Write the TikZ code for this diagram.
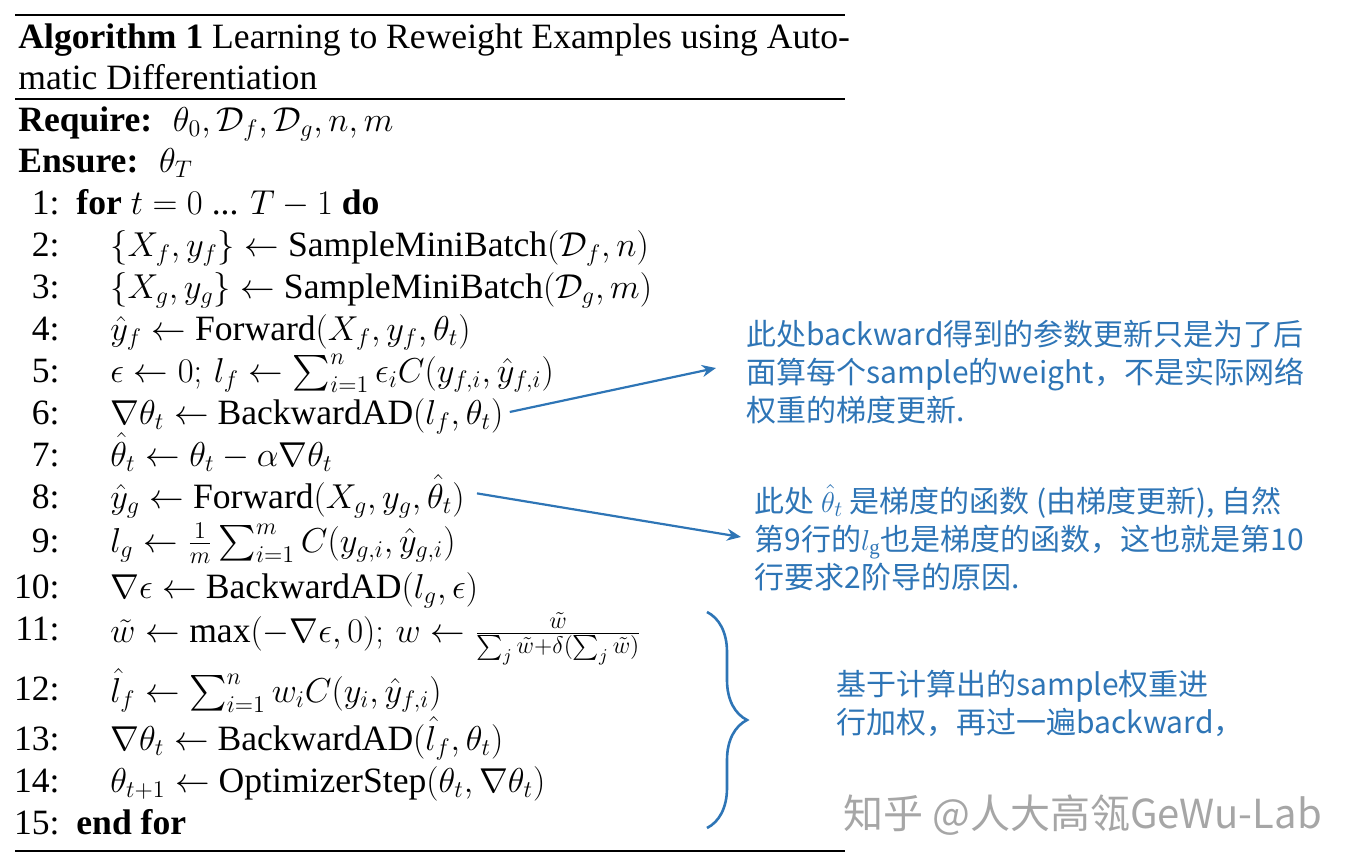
\documentclass[tikz,border=0pt]{standalone}
\usepackage{amsmath,amssymb}
\usepackage{fontspec}
\setmainfont{Liberation Serif}
\newfontfamily\cjk{Noto Sans CJK SC}
\usetikzlibrary{decorations.pathreplacing,arrows.meta}
\definecolor{ann}{RGB}{46,117,182}
\tikzset{
 alg/.style={anchor=base west,inner sep=0pt,font=\fontsize{17.8}{20}\selectfont},
 num/.style={anchor=base east,inner sep=0pt,font=\fontsize{17.8}{20}\selectfont},
 note/.style={anchor=north west,inner sep=0pt,align=left,text=ann,font=\cjk\fontsize{15}{19}\selectfont},
 rule/.style={line width=0.8pt},
 arr/.style={ann,line width=1.1pt,-{Stealth[length=7pt,width=6pt]}}
}
\begin{document}
\begin{tikzpicture}[x=0.5pt,y=-0.5pt]
\useasboundingbox (0,0) rectangle (1356,867);
\draw[rule] (15,15) -- (845,15);
\draw[rule] (15,99) -- (845,99);
\draw[rule] (15,851) -- (845,851);
\node[alg] (t1) at (18,48) {\textbf{Algorithm 1} Learning to Reweight Examples using Auto-};
\node[alg] (t2) at (18,89) {matic Differentiation};
\node[alg] (rq) at (18,131) {\textbf{Require:} \ $\theta_0, \mathcal{D}_f, \mathcal{D}_g, n, m$};
\node[alg] (en) at (18,172) {\textbf{Ensure:} \ $\theta_T$};
\foreach \n/\y in {1/214,2/256,3/298,4/340,5/382,6/424,7/466,8/508,9/552,10/598,11/640,12/700,13/750,14/792,15/834}
  \node[num] (n\n) at (60,\y) {\n:};
\node[alg] (l1) at (76,214) {\textbf{for} $t=0$ ... $T-1$ \textbf{do}};
\node[alg] (l2) at (110,256) {$\{X_f,y_f\}\leftarrow$ SampleMiniBatch$(\mathcal{D}_f,n)$};
\node[alg] (l3) at (110,298) {$\{X_g,y_g\}\leftarrow$ SampleMiniBatch$(\mathcal{D}_g,m)$};
\node[alg] (l4) at (110,340) {$\hat y_f\leftarrow$ Forward$(X_f,y_f,\theta_t)$};
\node[alg] (l5) at (110,382) {$\epsilon\leftarrow 0;\, l_f\leftarrow\sum_{i=1}^n \epsilon_i C(y_{f,i},\hat y_{f,i})$};
\node[alg] (l6) at (110,424) {$\nabla\theta_t\leftarrow$ BackwardAD$(l_f,\theta_t)$};
\node[alg] (l7) at (110,466) {$\hat\theta_t\leftarrow\theta_t-\alpha\nabla\theta_t$};
\node[alg] (l8) at (110,508) {$\hat y_g\leftarrow$ Forward$(X_g,y_g,\hat\theta_t)$};
\node[alg] (l9) at (110,552) {$l_g\leftarrow\frac{1}{m}\sum_{i=1}^m C(y_{g,i},\hat y_{g,i})$};
\node[alg] (l10) at (110,598) {$\nabla\epsilon\leftarrow$ BackwardAD$(l_g,\epsilon)$};
\node[alg] (l11) at (110,642) {$\tilde w\leftarrow\max(-\nabla\epsilon,0);\, w\leftarrow\frac{\tilde w}{\sum_j\tilde w+\delta(\sum_j\tilde w)}$};
\node[alg] (l12) at (110,702) {$\hat l_f\leftarrow\sum_{i=1}^n w_iC(y_i,\hat y_{f,i})$};
\node[alg] (l13) at (110,750) {$\nabla\theta_t\leftarrow$ BackwardAD$(\hat l_f,\theta_t)$};
\node[alg] (l14) at (110,792) {$\theta_{t+1}\leftarrow$ OptimizerStep$(\theta_t,\nabla\theta_t)$};
\node[alg] (l15) at (76,834) {\textbf{end for}};
\node[note] (a1) at (746,320) {此处backward得到的参数更新只是为了后\\面算每个sample的weight，不是实际网络\\权重的梯度更新.};
\node[note] (a2) at (754,484) {此处 $\hat\theta_t$ 是梯度的函数 (由梯度更新), 自然\\第9行的$l_{\mathrm{g}}$也是梯度的函数，这也就是第10\\行要求2阶导的原因.};
\node[note] (a3) at (836,670) {基于计算出的sample权重进\\行加权，再过一遍backward，};
\coordinate (b1) at (707,612);
\coordinate (b2) at (707,828);
\draw[ann,line width=1.3pt,decorate,decoration={brace,amplitude=20pt}] (b1) -- (b2);
\draw[arr] (l6.east) ++(6,-4) coordinate (s1) -- (716,368);
\draw[arr] (l8.east) ++(12,-3) coordinate (s2) -- (741,537);
\node[anchor=base west,inner sep=0pt,text=black!35,font=\cjk\fontsize{20}{22}\selectfont] (wm) at (843,828) {知乎 @人大高瓴GeWu-Lab};
\end{tikzpicture}
\end{document}
